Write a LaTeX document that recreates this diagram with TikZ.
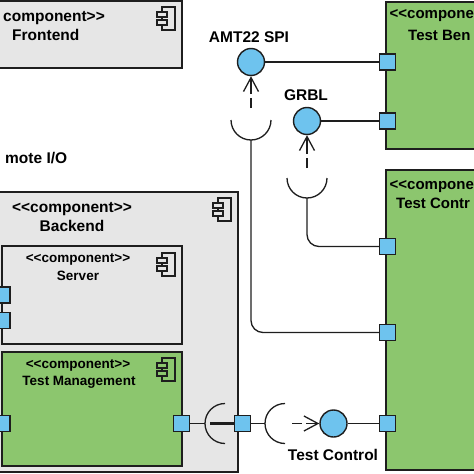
\documentclass[tikz,border=0pt]{standalone}
\usepackage{fontspec}
\newfontfamily\lbf{Liberation Sans}
\usetikzlibrary{arrows.meta}
\definecolor{cgray}{RGB}{230,230,230}
\definecolor{cgreen}{RGB}{140,198,110}
\definecolor{cblue}{RGB}{110,195,238}
\definecolor{cline}{RGB}{30,30,30}
\newcommand\cmpicon[3]{%
  \draw[cline, line width=1.2pt, fill=#3] (#1+5,#2) rectangle (#1+18,#2+23);
  \draw[cline, line width=1.2pt, fill=#3] (#1,#2+5) rectangle (#1+10,#2+10);
  \draw[cline, line width=1.2pt, fill=#3] (#1,#2+13) rectangle (#1+10,#2+18);
}
\begin{document}
\begin{tikzpicture}[x=1pt,y=-1pt,
  box/.style={draw=cline, line width=1.8pt, rectangle, inner sep=0},
  graybox/.style={box, fill=cgray},
  greenbox/.style={box, fill=cgreen},
  port/.style={draw=cline, line width=1.3pt, fill=cblue, rectangle, minimum size=16pt, inner sep=0},
  ball/.style={draw=cline, line width=1.4pt, fill=cblue, circle, minimum size=27pt, inner sep=0},
  conn/.style={draw=cline, line width=1.3pt},
  sock/.style={draw=cline, line width=1.3pt},
  deleg/.style={draw=cline, line width=2.4pt},
  dep/.style={draw=cline, line width=1.3pt, dash pattern=on 10pt off 4pt on 40pt off 4pt, -{Straight Barb[length=14pt,width=15pt]}},
  biglbl/.style={font=\lbf\bfseries\fontsize{15.5}{17}\selectfont, inner sep=0, text=black},
  edgelbl/.style={font=\lbf\bfseries\fontsize{15}{17}\selectfont, inner sep=0, text=black},
  smalllbl/.style={font=\lbf\bfseries\fontsize{13.5}{15}\selectfont, inner sep=0, text=black},
]
\useasboundingbox (0,0) rectangle (474,474);
\clip (0,0) rectangle (474,474);

% boxes
\node[graybox, minimum width=202pt, minimum height=67pt] (frontend) at (81,34.5) {};
\node[greenbox, minimum width=120pt, minimum height=147pt] (bench) at (446,75.5) {};
\node[greenbox, minimum width=120pt, minimum height=300pt] (tctrl) at (446,320) {};
\node[graybox, minimum width=258pt, minimum height=280pt] (backend) at (109,332) {};
\node[graybox, minimum width=180pt, minimum height=98pt] (server) at (92,295) {};
\node[greenbox, minimum width=180pt, minimum height=114pt] (tm) at (92,409) {};

% labels
\node[biglbl, anchor=west] (fe1) at (3,18) {component>>};
\node[biglbl, anchor=west] (fe2) at (12,35) {Frontend};
\node[edgelbl, anchor=west] (tb1) at (389.5,16) {<<compone};
\node[edgelbl, anchor=west] (tb2) at (408,35) {Test Ben};
\node[edgelbl, anchor=west] (tc1) at (389.5,187) {<<compone};
\node[edgelbl, anchor=west] (tc2) at (396,203) {Test Contr};
\node[biglbl, anchor=west] (rio) at (5,158) {mote I/O};
\node[biglbl] (be1) at (72,209) {<<component>>};
\node[biglbl] (be2) at (72,226) {Backend};
\node[smalllbl] (sv1) at (78,259) {<<component>>};
\node[smalllbl] (sv2) at (78,276) {Server};
\node[smalllbl] (tm1) at (78,365) {<<component>>};
\node[smalllbl] (tm2) at (79,382) {Test Management};
\node[biglbl] (amtl) at (249,37) {AMT22 SPI};
\node[biglbl] (grbll) at (306,95) {GRBL};
\node[biglbl] (tcl) at (333,455) {Test Control};

% icons
\cmpicon{157}{7}{cgray}
\cmpicon{213}{198}{cgray}
\cmpicon{157}{253}{cgray}
\cmpicon{157}{358}{cgreen}

% interface points
\coordinate (amts) at (251,120);
\coordinate (amtsb) at (251,140);
\coordinate (amtd) at (251,108);
\coordinate (grbls) at (307,178);
\coordinate (grblsb) at (307,198);
\coordinate (grbld) at (307,168);
\coordinate (tcs) at (285,423.5);
\coordinate (tcsl) at (265,423.5);
\coordinate (tcd) at (292,423.5);
\coordinate (tms) at (225,423.5);
\coordinate (tmsl) at (205,423.5);
\coordinate (tmsin) at (210,423.5);

% balls
\node[ball] (amt) at (251,62) {};
\node[ball] (grbl) at (307,121) {};
\node[ball] (tcball) at (333.5,423.5) {};

% ports
\node[port] (ptb1) at (387.5,62) {};
\node[port] (ptb2) at (387.5,121) {};
\node[port] (ptc1) at (387.5,246.5) {};
\node[port] (ptc2) at (387.5,332.5) {};
\node[port] (ptc3) at (387.5,423.5) {};
\node[port] (ps1) at (2,295) {};
\node[port] (ps2) at (2,320.5) {};
\node[port] (ptm1) at (2,423.5) {};
\node[port] (ptm2) at (181.5,423.5) {};
\node[port] (pbe) at (242.5,423.5) {};

% sockets
\draw[sock] ([xshift=-20pt]amts) arc[start angle=180, end angle=0, radius=20];
\draw[sock] ([xshift=-20pt]grbls) arc[start angle=180, end angle=0, radius=20];
\draw[sock] ([yshift=20pt]tcs) arc[start angle=270, end angle=90, radius=20];
\draw[sock] ([yshift=20pt]tms) arc[start angle=270, end angle=90, radius=20];

% connectors
\draw[conn] (amt) -- (ptb1);
\draw[conn] (grbl) -- (ptb2);
\draw[conn] (tcball) -- (ptc3);
\draw[conn, rounded corners=12pt] (amtsb) |- (ptc2);
\draw[conn, rounded corners=12pt] (grblsb) |- (ptc1);
\draw[conn] (ptm2) -- (tmsl);
\draw[deleg] (tmsin) -- (pbe);
\draw[conn] (pbe) -- (tcsl);

% dependencies
\draw[dep] (amtd) -- (amt);
\draw[dep] (grbld) -- (grbl);
\draw[dep] (tcd) -- (tcball);
\end{tikzpicture}
\end{document}
